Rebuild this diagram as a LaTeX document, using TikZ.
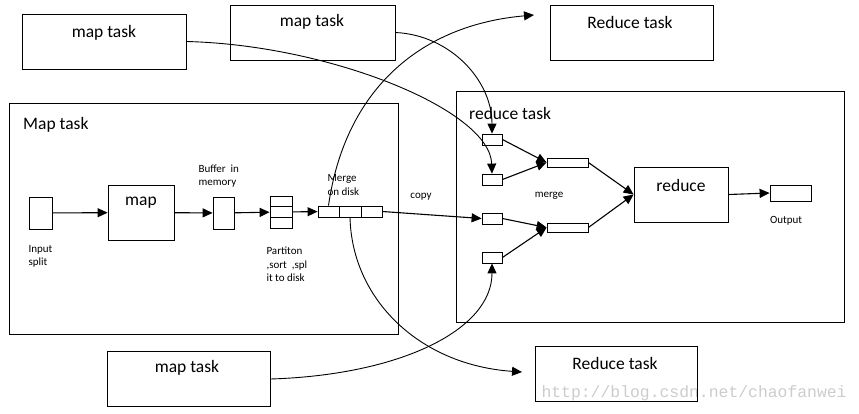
\documentclass[tikz,border=0pt]{standalone}
\usepackage{fontspec}
\setmainfont{Carlito}
\newfontfamily\wmfont{Liberation Mono}
\usetikzlibrary{arrows.meta}
\usetikzlibrary{positioning}
\tikzset{box/.style = {draw, line width = 0.8pt, inner sep = 0pt}}
\tikzset{arr/.style = {-{Triangle[length=10pt, width=9pt]}, line width = 1.1pt}}
\tikzset{curv/.style = {-{Triangle[length=10pt, width=9pt]}, line width = 0.9pt}}
\tikzset{big/.style = {font = \fontsize{17.5}{20}\selectfont}}
\tikzset{small/.style = {font = \fontsize{11}{13.5}\selectfont, align = left, anchor = west}}

\begin{document}
\begin{tikzpicture}[x=1pt, y=-1pt]
    \useasboundingbox (0, 0) rectangle (859, 413);

    % watermark
    \node [text = black!20, font = \wmfont\fontsize{16.4}{18}\selectfont, anchor = west]
      (wm) at (538, 393) {http://blog.csdn.net/chaofanwei};

    % outer tasks
    \node [box, minimum width = 164pt, minimum height = 55pt] (mt1) at (104, 41.5) {};
    \node [big] (mt1t) at (104, 33) {map task};
    \node [box, minimum width = 165pt, minimum height = 55pt] (mt2) at (312.5, 32.5) {};
    \node [big] (mt2t) at (312, 22) {map task};
    \node [box, minimum width = 163pt, minimum height = 55pt] (rt1) at (631.5, 32.5) {};
    \node [big] (rt1t) at (630, 22) {Reduce task};
    \node [box, minimum width = 163pt, minimum height = 55pt] (mt3) at (188.5, 379) {};
    \node [big] (mt3t) at (187, 368) {map task};
    \node [box, minimum width = 162pt, minimum height = 55pt] (rt2) at (616, 373.5) {};
    \node [big] (rt2t) at (615, 363) {Reduce task};

    % map task
    \node [box, minimum width = 389pt, minimum height = 231pt] (mapbox) at (203.5, 218.5) {};
    \node [big, anchor = west, inner sep = 0pt] (maplbl) at (23, 125) {Map task};
    \node [box, minimum width = 23pt, minimum height = 32pt] (inp) at (40.5, 213) {};
    \node [small] (inpt) at (25, 256.5) {Input\\split};
    \node [box, minimum width = 66pt, minimum height = 55pt] (map) at (141, 212.5) {};
    \node [big] (mapt) at (141, 203) {map};
    \node [box, minimum width = 21pt, minimum height = 32pt] (buf) at (223.5, 213) {};
    \node [small] (buft) at (195, 176) {Buffer\ \ in\\memory};
    \node [box, minimum width = 22pt, minimum height = 10.7pt] (pt1) at (281, 201.3) {};
    \node [box, minimum width = 22pt, minimum height = 10.7pt] (pt2) at (281, 212) {};
    \node [box, minimum width = 22pt, minimum height = 10.7pt] (pt3) at (281, 222.7) {};
    \node [small] (ptt) at (263, 264.5) {Partiton\\,sort\ \ ,spl\\it to disk};
    \node [box, minimum width = 21pt, minimum height = 11pt] (mg1) at (328.5, 211.5) {};
    \node [box, minimum width = 22pt, minimum height = 11pt] (mg2) at (350, 211.5) {};
    \node [box, minimum width = 21pt, minimum height = 11pt] (mg3) at (371.5, 211.5) {};
    \node [small] (mgt) at (324, 185) {Merge\\on disk};

    \draw [arr] (inp) -- (map);
    \draw [arr] (map) -- (buf);
    \draw [arr] (buf) -- (pt2);
    \draw [arr] (pt2) -- (mg1);

    % reduce task
    \node [box, minimum width = 388pt, minimum height = 231pt] (redbox) at (650, 206.5) {};
    \node [big, anchor = west, inner sep = 0pt] (redlbl) at (469, 113) {reduce task};
    \node [box, minimum width = 20pt, minimum height = 11pt] (in1) at (492, 139.5) {};
    \node [box, minimum width = 20pt, minimum height = 11pt] (in2) at (492, 179.5) {};
    \node [box, minimum width = 20pt, minimum height = 11pt] (in3) at (492, 218.5) {};
    \node [box, minimum width = 20pt, minimum height = 11pt] (in4) at (492, 257.5) {};
    \node [box, minimum width = 41pt, minimum height = 9pt] (m1) at (567.5, 162.5) {};
    \node [box, minimum width = 41pt, minimum height = 9pt] (m2) at (567.5, 227.5) {};
    \node [small, anchor = center] (mt) at (549, 196) {merge};
    \node [box, minimum width = 94pt, minimum height = 55pt] (red) at (681, 194.5) {};
    \node [big] (redt) at (681, 185) {reduce};
    \node [box, minimum width = 41pt, minimum height = 16pt] (out) at (790.5, 193) {};
    \node [small, anchor = center] (outt) at (786, 221) {Output};

    \draw [arr] (in1.east) -- (m1.west);
    \draw [arr] (in2.east) -- (m1.west);
    \draw [arr] (in3.east) -- (m2.west);
    \draw [arr] (in4.east) -- (m2.west);
    \draw [arr] (m1.east) -- (red.west);
    \draw [arr] (m2.east) -- (red.west);
    \draw [arr] (red.east) -- (out.west);

    % copy
    \draw [arr] (mg3.east) -- (in3.west);
    \node [small, anchor = center] (cpt) at (421, 197) {copy};

    % shuffle curves
    \coordinate (tipA) at (534, 15);
    \coordinate (tipB) at (522, 372);
    \draw [curv] (mt1.east) .. controls (330, 45) and (490, 110) .. (in2.north);
    \draw [curv] (mt2.east) .. controls (450, 35) and (492, 80) .. (in1.north);
    \draw [curv] (mt3.east) .. controls (400, 375) and (492, 330) .. (in4.south);
    \draw [curv] (mg1.north) .. controls (345, 90) and (420, 25) .. (tipA);
    \draw [curv] (mg2.south) .. controls (352, 300) and (420, 365) .. (tipB);
  \end{tikzpicture}
\end{document}
